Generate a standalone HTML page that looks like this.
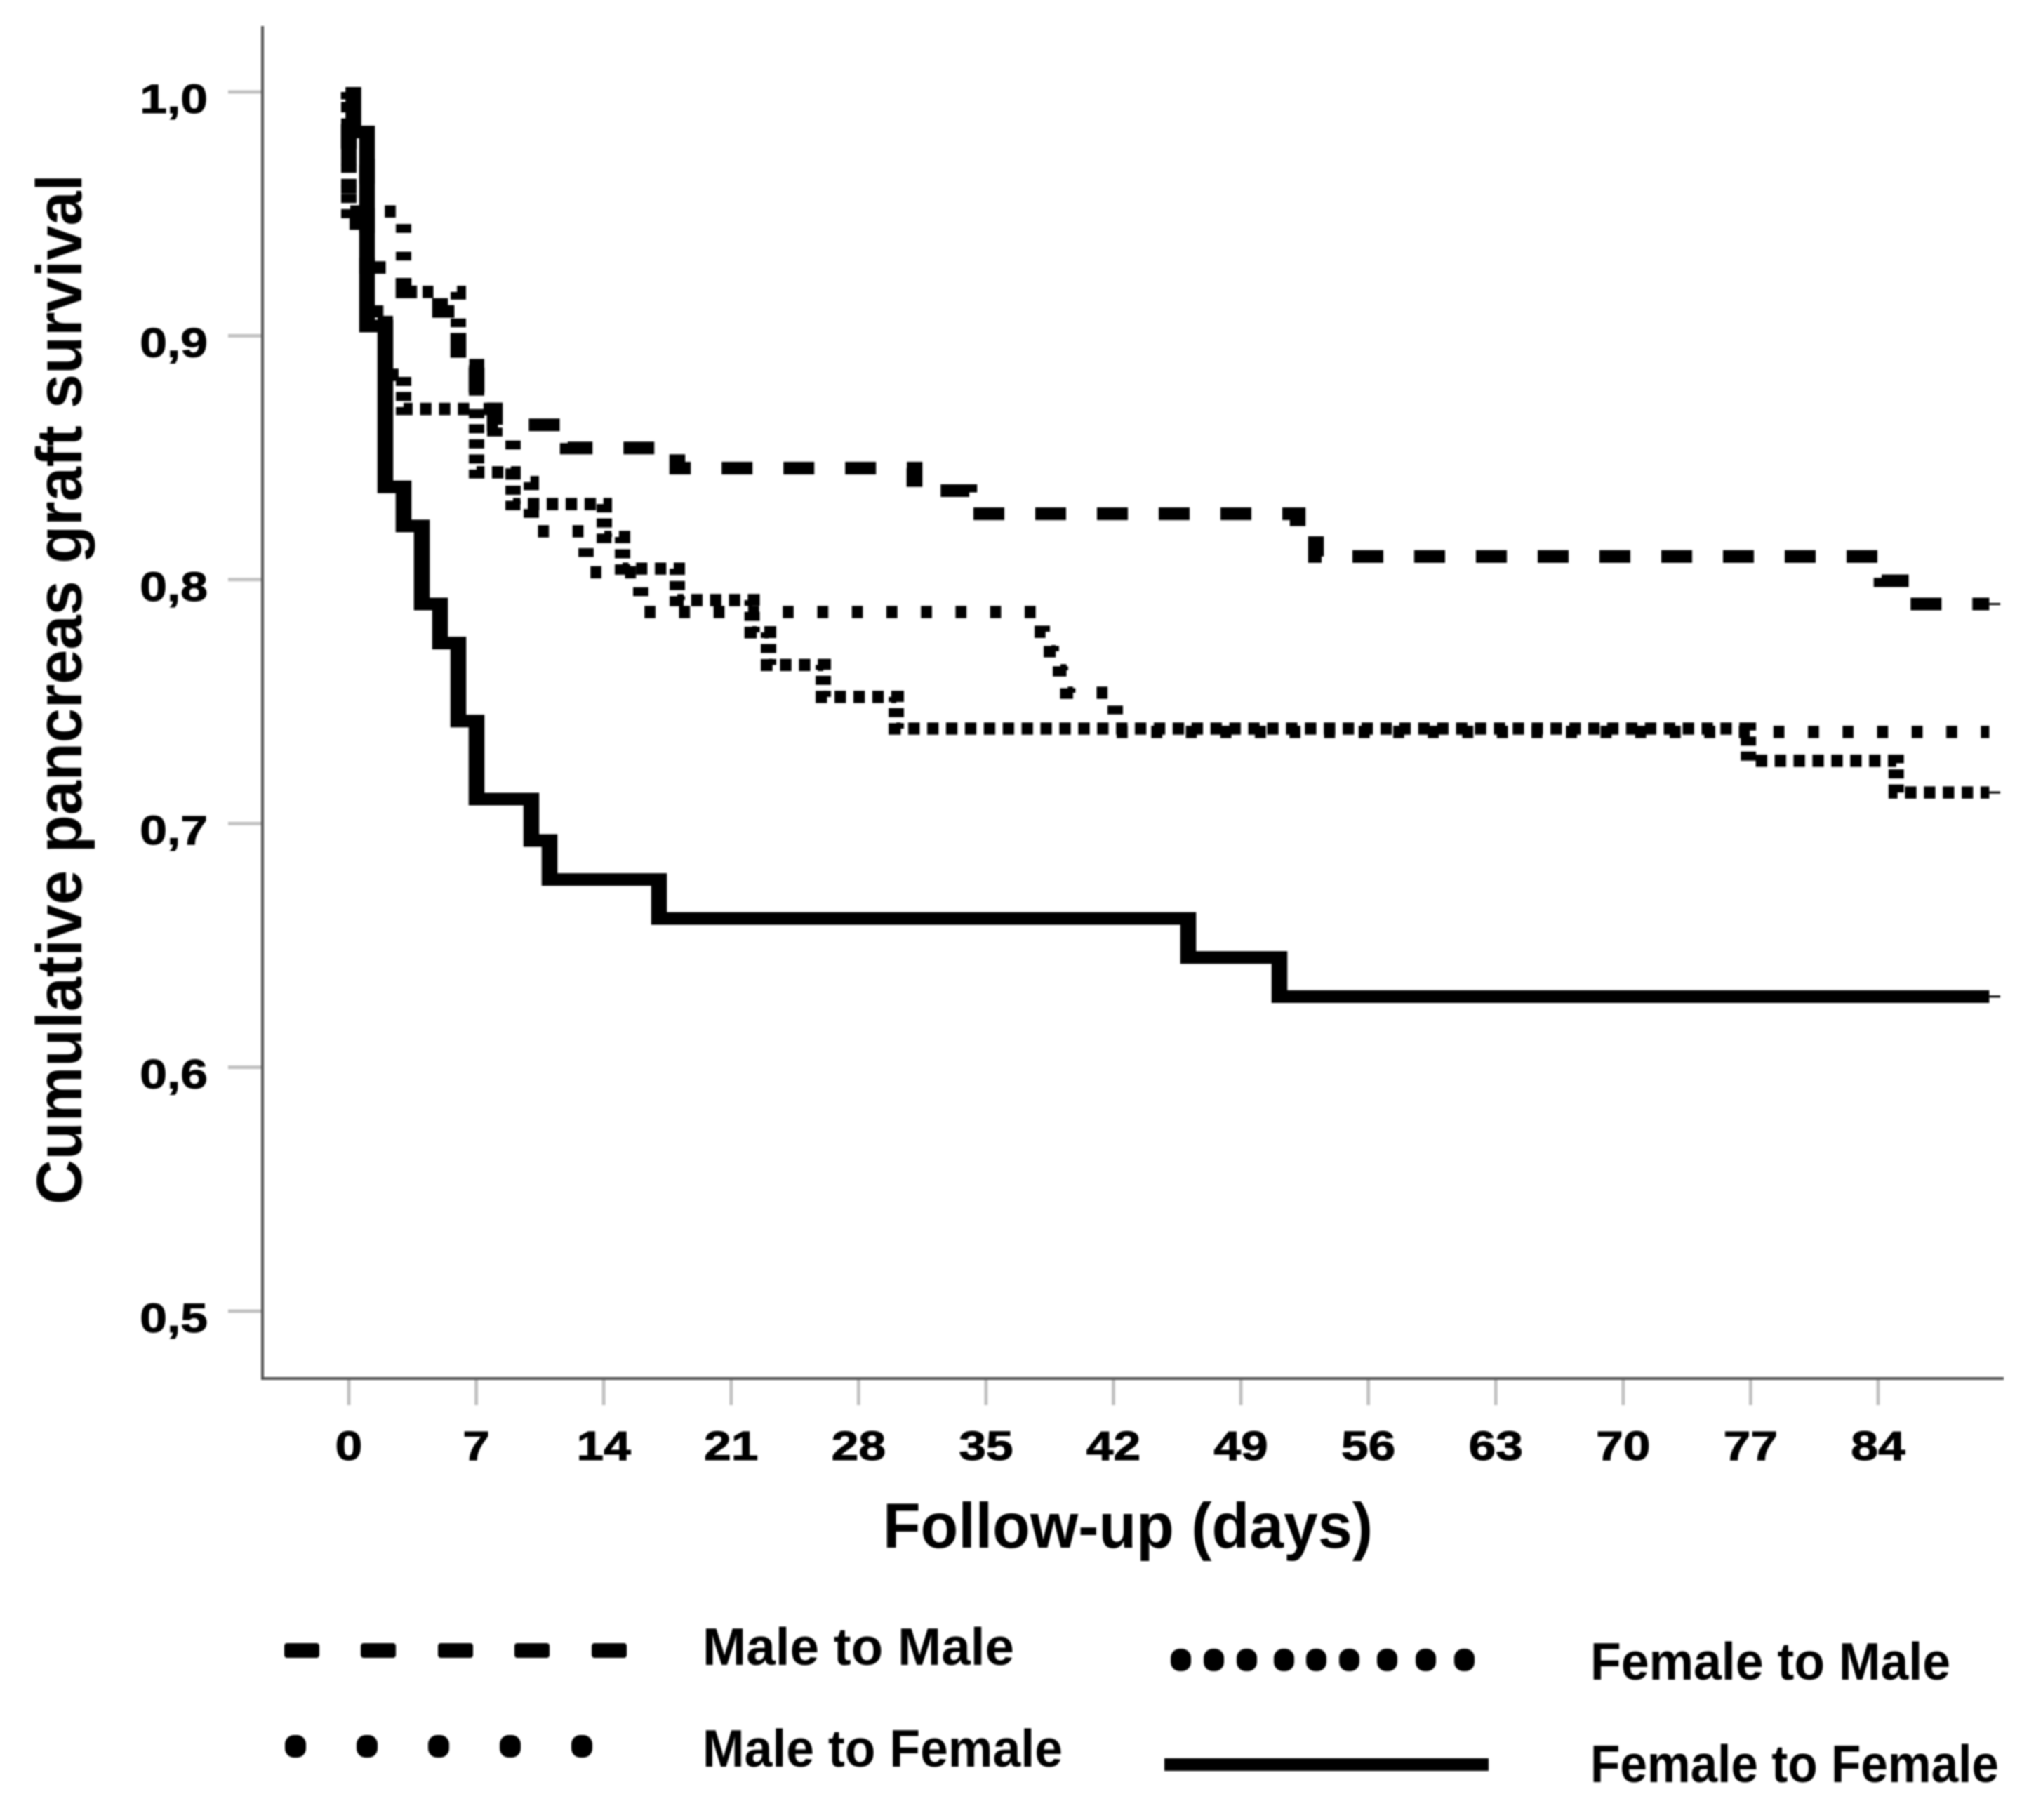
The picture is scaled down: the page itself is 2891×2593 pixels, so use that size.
<!DOCTYPE html>
<html lang="en">
<head>
<meta charset="utf-8">
<title>Cumulative pancreas graft survival</title>
<style>
html,body{margin:0;padding:0;background:#fff;}
svg{display:block;filter:blur(1px);}
text{font-family:"Liberation Sans",sans-serif;font-weight:bold;fill:#000;}
</style>
</head>
<body>
<svg id="chart" xmlns="http://www.w3.org/2000/svg" width="2891" height="2593" viewBox="0 0 2891 2593">
  <rect x="0" y="0" width="2891" height="2593" fill="#fff"/>
  <g id="ticks"></g>
  <line x1="374" y1="37" x2="374" y2="1965" stroke="#555" stroke-width="4"/>
  <line x1="372" y1="1964" x2="2855" y2="1964" stroke="#555" stroke-width="4"/>
  <g id="series" transform="scale(1.25,1)"></g>
  <g id="tails"></g>
  <g id="labels"></g>

  <text transform="translate(116,1716) rotate(-90)" font-size="92" textLength="1468" lengthAdjust="spacingAndGlyphs">Cumulative pancreas graft survival</text>
  <text x="1258" y="2205" font-size="91" textLength="698" lengthAdjust="spacingAndGlyphs">Follow-up (days)</text>

  <g>
    <g fill="#000">
      <rect x="405" y="2341" width="50" height="21" rx="4"/>
      <rect x="514" y="2341" width="50" height="21" rx="4"/>
      <rect x="624" y="2341" width="50" height="21" rx="4"/>
      <rect x="733" y="2341" width="50" height="21" rx="4"/>
      <rect x="843" y="2341" width="50" height="21" rx="4"/>
    </g>
    <text x="1001" y="2372" font-size="75" textLength="444" lengthAdjust="spacingAndGlyphs">Male to Male</text>
  </g>
  <g>
    <g fill="#000">
      <rect x="406" y="2472" width="30" height="32" rx="13"/>
      <rect x="508" y="2472" width="30" height="32" rx="13"/>
      <rect x="610" y="2472" width="30" height="32" rx="13"/>
      <rect x="712" y="2472" width="30" height="32" rx="13"/>
      <rect x="814" y="2472" width="30" height="32" rx="13"/>
    </g>
    <text x="1001" y="2517" font-size="75" textLength="513" lengthAdjust="spacingAndGlyphs">Male to Female</text>
  </g>
  <g>
    <g fill="#000">
      <rect x="1668" y="2349" width="29" height="32" rx="13"/>
      <rect x="1715" y="2349" width="29" height="32" rx="13"/>
      <rect x="1762" y="2349" width="29" height="32" rx="13"/>
      <rect x="1815" y="2349" width="29" height="32" rx="13"/>
      <rect x="1861" y="2349" width="29" height="32" rx="13"/>
      <rect x="1908" y="2349" width="29" height="32" rx="13"/>
      <rect x="1962" y="2349" width="29" height="32" rx="13"/>
      <rect x="2017" y="2349" width="29" height="32" rx="13"/>
      <rect x="2072" y="2349" width="29" height="32" rx="13"/>
    </g>
    <text x="2266" y="2393" font-size="75" textLength="513" lengthAdjust="spacingAndGlyphs">Female to Male</text>
  </g>
  <g>
    <rect x="1659" y="2505" width="462" height="18" fill="#000"/>
    <text x="2266" y="2539" font-size="75" textLength="582" lengthAdjust="spacingAndGlyphs">Female to Female</text>
  </g>
</svg>

<script>
// Tick labels
const xTickDays = [0, 7, 14, 21, 28, 35, 42, 49, 56, 63, 70, 77, 84];
const yTickValues = [1.0, 0.9, 0.8, 0.7, 0.6, 0.5];
const yTickLabels = ["1,0", "0,9", "0,8", "0,7", "0,6", "0,5"];

// Last observed follow-up day and the end of the censor tail
const lastDay = 89.9;
const tailDay = 90.5;

// Male to Male
const mmDays = [0, 0, 1, 3, 5, 6, 7, 8, 12, 18, 31, 34, 52, 53, 84, 85.5];
const mmSurvival = [1.0, 0.97, 0.928, 0.918, 0.91, 0.888, 0.87, 0.8635, 0.854, 0.8457, 0.8365, 0.827, 0.8185, 0.8095, 0.7995, 0.79];

// Male to Female
const mfDays = [0, 0, 3, 6, 7, 8, 9, 10, 13, 16, 38, 38.5, 39, 39.4, 42];
const mfSurvival = [1.0, 0.951, 0.918, 0.888, 0.87, 0.858, 0.84, 0.8198, 0.803, 0.7867, 0.7786, 0.7706, 0.7628, 0.7536, 0.7375];

// Female to Male
const fmDays = [0, 0, 1, 2, 3, 7, 9, 14, 15, 18, 22.1, 23, 26, 30, 76.7, 84.8];
const fmSurvival = [1.0, 0.946, 0.91, 0.884, 0.87, 0.844, 0.831, 0.8175, 0.8045, 0.7916, 0.7784, 0.765, 0.7519, 0.7389, 0.7257, 0.7127];

// Female to Female
const ffDays = [0.25, 0.25, 1, 2, 3, 4, 5, 6, 7, 10, 11, 17, 46, 51];
const ffSurvival = [1.002, 0.9836, 0.904, 0.838, 0.822, 0.79, 0.774, 0.742, 0.71, 0.693, 0.677, 0.661, 0.645, 0.629];

const SVG_NS = "http://www.w3.org/2000/svg";
const X_STRETCH = 1.25;

function xScale(day) {
  return 497 + day * 26;
}
function xLabelScale(day) {
  return 497 + day * 25.94;
}
function yScale(value) {
  return 131 + (1 - value) * 3474;
}

const tickGroup = document.getElementById("ticks");
const labelGroup = document.getElementById("labels");
const seriesGroup = document.getElementById("series");
const tailGroup = document.getElementById("tails");

function addTickLine(x1, y1, x2, y2) {
  const line = document.createElementNS(SVG_NS, "line");
  line.setAttribute("x1", x1);
  line.setAttribute("y1", y1);
  line.setAttribute("x2", x2);
  line.setAttribute("y2", y2);
  line.setAttribute("stroke", "#c2c2c2");
  line.setAttribute("stroke-width", "5");
  tickGroup.appendChild(line);
  return line;
}
function addLabel(text, x, y, anchor) {
  const label = document.createElementNS(SVG_NS, "text");
  label.setAttribute("transform", "translate(" + x + "," + y + ") scale(1.2,1)");
  label.setAttribute("font-size", "58");
  label.setAttribute("text-anchor", anchor);
  label.setAttribute("stroke", "#000");
  label.setAttribute("stroke-width", "1");
  label.textContent = text;
  labelGroup.appendChild(label);
  return label;
}

xTickDays.forEach(function (day) {
  const x = xLabelScale(day);
  const tick = addTickLine(x, 1966, x, 2002);
  
  
  const label = addLabel(String(day), x, 2080, "middle");
  
  
});

yTickValues.forEach(function (value, i) {
  const y = yScale(value);
  const tick = addTickLine(325, y, 372, y);
  
  
  const label = addLabel(yTickLabels[i], 296, y + 30, "end");
  
  
});

function stepPath(days, survival) {
  let d = "M" + (xScale(days[0]) / X_STRETCH) + " " + yScale(survival[0]);
  for (let i = 1; i < days.length; i++) {
    d += " H" + (xScale(days[i]) / X_STRETCH) + " V" + yScale(survival[i]);
  }
  d += " H" + (xScale(lastDay) / X_STRETCH);
  return d;
}
function addCurve(days, survival, width, dash, dashOffset) {
  const path = document.createElementNS(SVG_NS, "path");
  path.setAttribute("d", stepPath(days, survival));
  path.setAttribute("fill", "none");
  path.setAttribute("stroke", "#000");
  path.setAttribute("stroke-width", width);
  path.setAttribute("stroke-linejoin", "miter");
  if (dash) {
    path.setAttribute("stroke-dasharray", dash);
    path.setAttribute("stroke-dashoffset", dashOffset);
  }
  seriesGroup.appendChild(path);
  return path;
}
function addTail(survival) {
  const y = yScale(survival[survival.length - 1]);
  const tail = document.createElementNS(SVG_NS, "line");
  tail.setAttribute("x1", xScale(lastDay));
  tail.setAttribute("x2", xScale(tailDay));
  tail.setAttribute("y1", y);
  tail.setAttribute("y2", y);
  tail.setAttribute("stroke", "#000");
  tail.setAttribute("stroke-width", "3");
  tailGroup.appendChild(tail);
  return tail;
}

const mmCurve = addCurve(mmDays, mmSurvival, 18, "35.2 35.2", 24.6);



const mfCurve = addCurve(mfDays, mfSurvival, 17.5, "12.5 26.9", 25.2);



const fmCurve = addCurve(fmDays, fmSurvival, 17.5, "13 8.53", 5.4);



const ffCurve = addCurve(ffDays, ffSurvival, 18, "", 0);



const mmTail = addTail(mmSurvival);



const fmTail = addTail(fmSurvival);



const ffTail = addTail(ffSurvival);


</script>
</body>
</html>
